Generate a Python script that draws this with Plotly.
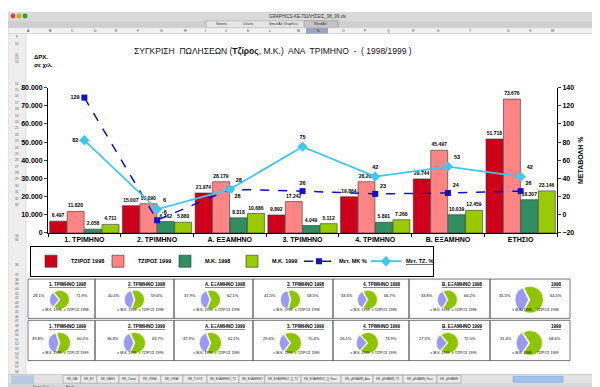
import plotly.graph_objects as go

# ---------------- DATA ----------------
categories = ["1. ΤΡΙΜΗΝΟ", "2. ΤΡΙΜΗΝΟ", "Α. ΕΞΑΜΗΝΟ", "3. ΤΡΙΜΗΝΟ",
              "4. ΤΡΙΜΗΝΟ", "Β. ΕΞΑΜΗΝΟ", "ΕΤΗΣΙΟ"]
tziros_1998 = [6497, 15007, 21974, 9892, 19864, 29744, 51718]
tziros_1999 = [11820, 16090, 28179, 17242, 28209, 45497, 73676]
mk_1998 = [2058, 6262, 8318, 4049, 5891, 10039, 18307]
mk_1999 = [4711, 5880, 10686, 5112, 7268, 12459, 23146]
change_mk = [129, -6, 28, 26, 23, 24, 26]
change_tz = [82, 6, 28, 75, 42, 53, 42]

pie_titles_1998 = ["1. ΤΡΙΜΗΝΟ 1998", "2. ΤΡΙΜΗΝΟ 1998", "Α. ΕΞΑΜΗΝΟ 1998", "3. ΤΡΙΜΗΝΟ 1998",
                   "4. ΤΡΙΜΗΝΟ 1998", "Β. ΕΞΑΜΗΝΟ 1998", "1998"]
pie_mk_1998 = [28.1, 40.4, 37.9, 41.5, 33.3, 33.8, 35.5]
pie_tz_1998 = [71.9, 59.6, 62.1, 58.5, 66.7, 66.2, 64.5]
pie_titles_1999 = ["1. ΤΡΙΜΗΝΟ 1999", "2. ΤΡΙΜΗΝΟ 1999", "Α. ΕΞΑΜΗΝΟ 1999", "3. ΤΡΙΜΗΝΟ 1999",
                   "4. ΤΡΙΜΗΝΟ 1999", "Β. ΕΞΑΜΗΝΟ 1999", "1999"]
pie_mk_1999 = [39.8, 36.3, 37.9, 29.6, 26.1, 27.5, 31.4]
pie_tz_1999 = [60.2, 63.7, 62.1, 70.4, 73.9, 72.5, 68.6]

W, H = 600, 387
FONT = "Liberation Sans, Arial, sans-serif"


def px(x):
    return x / W


def py(y):
    return 1 - y / H


fig = go.Figure()

bar_series = [
    ("ΤΖΙΡΟΣ 1998", tziros_1998, "#d0001a"),
    ("ΤΖΙΡΟΣ 1999", tziros_1999, "#ff8585"),
    ("Μ.Κ. 1998", mk_1998, "#2f8f63"),
    ("Μ.Κ. 1999", mk_1999, "#99cc00"),
]
for name, vals, col in bar_series:
    fig.add_trace(go.Bar(
        x=categories, y=vals, name="<b>" + name + "</b>", marker_color=col,
        marker_line=dict(color="#333333", width=0.6),
        texttemplate="<b>%{y:,d}</b>", textposition="outside",
        textfont=dict(size=5, color="#000", family=FONT),
        cliponaxis=False, xaxis="x", yaxis="y",
    ))

mk_pos = ["middle left", "top right", "bottom right", "top center", "top right", "top right", "top right"]
tz_pos = ["middle left", "top right", "top right", "top center", "top center", "top right", "top right"]

fig.add_trace(go.Scatter(
    x=categories, y=change_mk, name="<b>Μετ. ΜΚ %</b>", mode="lines+markers+text",
    line=dict(color="#1010c8", width=1.5, dash="dash"),
    marker=dict(symbol="square", size=6, color="#1010c8"),
    text=["<b>%d</b>" % v for v in change_mk], textposition=mk_pos,
    textfont=dict(size=5.5, color="#000", family=FONT),
    yaxis="y2", cliponaxis=False,
))
fig.add_trace(go.Scatter(
    x=categories, y=change_tz, name="<b><u>Μετ. ΤΖ. %</u></b>", mode="lines+markers+text",
    line=dict(color="#3cc8f0", width=1.8),
    marker=dict(symbol="diamond", size=8, color="#3cc8f0"),
    text=["<b>%d</b>" % v for v in change_tz], textposition=tz_pos,
    textfont=dict(size=5.5, color="#000", family=FONT),
    yaxis="y2", cliponaxis=False,
))

# ---------------- pies ----------------
col_bounds = [20, 87, 166, 245, 325, 401, 482, 562]
pie_cx = [52, 127, 203, 283, 360, 440, 522]
rows = [
    dict(top=272, bot=312, cy=293, d=[19, 19, 19, 19, 19, 19, 27], titles=pie_titles_1998,
         mk=pie_mk_1998, tz=pie_tz_1998, yr="1998"),
    dict(top=314, bot=355, cy=337, d=[21, 21, 21, 21, 21, 21, 25], titles=pie_titles_1999,
         mk=pie_mk_1999, tz=pie_tz_1999, yr="1999"),
]
shapes = []
annotations = []
pull = 0.12
for r in rows:
    for i in range(7):
        cx, cy, d = pie_cx[i], r["cy"], r["d"][i] * (1 + pull)
        p = r["mk"][i] / (r["mk"][i] + r["tz"][i])
        fig.add_trace(go.Pie(
            values=[r["mk"][i], r["tz"][i]], labels=["Μ.Κ. " + r["yr"], "ΤΖΙΡΟΣ " + r["yr"]],
            marker=dict(colors=["#9a9af5", "#8fc400"], line=dict(color="#ffffff", width=0.5)),
            pull=[pull, 0], sort=False, direction="clockwise", rotation=270 - p * 180,
            textinfo="none", hoverinfo="skip", showlegend=False,
            domain=dict(x=[px(cx - d / 2), px(cx + d / 2)], y=[py(cy + d / 2), py(cy - d / 2)]),
        ))
        shapes.append(dict(type="rect", xref="paper", yref="paper",
                           x0=px(col_bounds[i]), x1=px(col_bounds[i + 1]),
                           y0=py(r["bot"]), y1=py(r["top"]),
                           line=dict(color="#555", width=0.8), fillcolor="rgba(0,0,0,0)", layer="below"))
        annotations.append(dict(x=px(col_bounds[i + 1] - 6), y=py(r["top"] + 6), xref="paper", yref="paper",
                                text="<b><u>" + r["titles"][i] + "</u></b>", showarrow=False,
                                xanchor="right", yanchor="middle",
                                font=dict(size=4.5, family=FONT, color="#000")))
        rr = r["d"][i] / 2
        annotations.append(dict(x=px(cx - rr - 4), y=py(cy), xref="paper", yref="paper",
                                text="%.1f%%" % r["mk"][i], showarrow=False, xanchor="right",
                                font=dict(size=4, family=FONT, color="#000")))
        annotations.append(dict(x=px(cx + rr + 4), y=py(cy), xref="paper", yref="paper",
                                text="%.1f%%" % r["tz"][i], showarrow=False, xanchor="left",
                                font=dict(size=4, family=FONT, color="#000")))
        annotations.append(dict(x=px(cx + 5), y=py(r["bot"] - 4), xref="paper", yref="paper",
                                text="<span style='color:#9a9af5'>■</span> Μ.Κ. " + r["yr"]
                                     + "  <span style='color:#8fc400'>■</span> ΤΖΙΡΟΣ " + r["yr"],
                                showarrow=False, xanchor="center",
                                font=dict(size=3.6, family=FONT, color="#000")))

# ---------------- Excel window chrome ----------------
def rect(x0, y0, x1, y1, fill, line=None, layer="below"):
    shapes.append(dict(type="rect", xref="paper", yref="paper", x0=px(x0), x1=px(x1),
                       y0=py(y1), y1=py(y0), fillcolor=fill,
                       line=dict(width=0.6 if line else 0, color=line or fill), layer=layer))


def label(x, y, t, size=4, color="#333", anchor="center", bold=False):
    annotations.append(dict(x=px(x), y=py(y), xref="paper", yref="paper",
                            text=("<b>%s</b>" % t) if bold else t, showarrow=False,
                            xanchor=anchor, yanchor="middle", borderpad=0,
                            font=dict(size=size, color=color, family=FONT)))


rect(0, 0, 600, 9, "#d9d9d9")
rect(0, 9, 600, 16, "#cfcfcf")
rect(198, 9, 330, 16, "#e4e4e4", "#aaaaaa")
rect(296, 9, 330, 16, "#c4c4c4", "#999999")
rect(0, 16, 600, 22, "#f2f2f2", "#c8c8c8")
rect(298, 16, 320, 22, "#9aa6b8")
rect(0, 22, 18, 370, "#eeeeee", "#cfcfcf")
rect(589, 16, 600, 370, "#dde6f2", "#b0b8c8")
rect(590, 60, 598, 120, "#8fb2e0")
rect(0, 369, 600, 379, "#e2e2e2", "#bbbbbb")
rect(0, 379, 600, 387, "#d5d5d5")
rect(3, 370, 26, 379, "#b9c9e2")
rect(505, 371, 555, 377, "#9fc2ee", "#7da4d6")
for cx_, c in [(5, "#e0443e"), (11, "#dea123"), (17, "#1aab29")]:
    shapes.append(dict(type="circle", xref="paper", yref="paper",
                       x0=px(cx_ - 2.5), x1=px(cx_ + 2.5), y0=py(6.5), y1=py(1.5),
                       fillcolor=c, line=dict(width=0)))
label(300, 4.5, "GRAPHICS-ΚΕ-ΠΩΛΗΣΕΙΣ_98_99.xls", 4.5, "#333")
for x_, t in [(213, "Sheets"), (240, "Charts"), (275, "SmartArt Graphics"), (312, "WordArt")]:
    label(x_, 12.5, t, 3.5, "#333")
for x_, t in zip([20, 42, 64, 87, 108, 130, 153, 177, 197, 218, 240, 262, 290, 310, 335, 357, 380,
                  405, 430, 463, 500, 522, 545],
                 list("ABCDEFGHIJKLMNOPQRSTUVW")):
    label(x_, 19, t, 3.5, "#444")
row_nums = [("9", 25), ("10", 33), ("11", 44), ("12", 47), ("13", 51)]
for k in range(14, 34):
    row_nums.append((str(k), 73 + (k - 14) * 6.5))
row_nums += [("34", 228), ("35", 232), ("36", 258)]
for k in range(37, 59):
    row_nums.append((str(k), 268 + (k - 37) * 4.7))
for t, y_ in row_nums:
    label(9, y_, t, 3.2, "#555")
tabs = ["ΚΕ_ΚΑΙ", "ΚΕ_ΕΞ", "ΚΕ_ΚΑΙ95", "ΚΕ_Comp", "ΚΕ_ΟΙΚΑΙ", "ΚΕ_ΟΙΚΑΙ", "ΚΕ_ΤΙ-ΚΟΙ",
        "ΚΕ_ΕΞΑΜΗΝΟ_Τ2", "ΚΕ_ΕΞΑΜΗΝΟ", "ΚΕ_ΕΞΑΜΗΝΟ_Q_Τ2", "ΚΕ_ΕΞΑΜΗΝΟ_Q_Four", "ΚΕ_γΕΘΑΜΝ_Ακκ",
        "ΚΕ_γΕΘΑΜΝ_Τ2", "ΚΕ_γΕΘΑΜΝ_Four", "ΚΕ_γΕΘΑΜΝ"]
tx = 55
for t in tabs:
    w = len(t) * 2.0 + 6
    if tx + w > 503:
        break
    rect(tx, 370, tx + w, 378, "#ececec", "#9a9a9a")
    label(tx + w / 2, 374, t, 3, "#333")
    tx += w
label(33, 381.5, "Normal View", 2.8, "#3a6ea5")
label(62, 381.5, "Ready", 2.8, "#333")

# ---------------- main chart texts ----------------
annotations.append(dict(x=px(265), y=py(33), xref="paper", yref="paper", showarrow=False,
                        text="ΣΥΓΚΡΙΣΗ  ΠΩΛΗΣΕΩΝ (<b>Τζίρος</b>, Μ.Κ.)  ΑΝΑ  ΤΡΙΜΗΝΟ  -  ( 1998/1999 )",
                        font=dict(size=8.5, family=FONT, color="#111")))
label(25, 46, "ΔΡΧ.", 6, "#000", "left", True)
label(25, 54, "σε χιλ.", 6, "#000", "left", True)

fig.update_layout(
    width=W, height=H, margin=dict(l=0, r=0, t=0, b=0),
    paper_bgcolor="#ffffff", plot_bgcolor="#ffffff",
    separators=",.",
    barmode="group", bargap=0.04, bargroupgap=0.03,
    font=dict(family=FONT, size=6, color="#000"),
    xaxis=dict(domain=[px(40), px(549)], anchor="y", showline=True, linecolor="#000", linewidth=1,
               ticks="outside", tickson="boundaries", ticklen=3, tickcolor="#000",
               tickfont=dict(size=7, family=FONT, color="#000"), showgrid=False,
               tickprefix="<b>", ticksuffix="</b>"),
    yaxis=dict(domain=[py(225), py(77)], range=[0, 80000], dtick=10000, tickformat=",d",
               showline=True, linecolor="#000", linewidth=1, ticks="outside", ticklen=3,
               tickfont=dict(size=7, family=FONT, color="#000"), showgrid=False, zeroline=False,
               tickprefix="<b>", ticksuffix="</b>"),
    yaxis2=dict(overlaying="y", side="right", anchor="x", range=[-20, 140], dtick=20,
                showline=True, linecolor="#000", linewidth=1, ticks="outside", ticklen=3,
                tickfont=dict(size=7, family=FONT, color="#000"), showgrid=False, zeroline=False,
                tickprefix="<b>", ticksuffix="</b>",
                title=dict(text="<b>ΜΕΤΑΒΟΛΗ %</b>", font=dict(size=7, family=FONT), standoff=4)),
    legend=dict(orientation="h", x=px(22), y=py(238), xanchor="left", yanchor="top",
                bordercolor="#000", borderwidth=1, bgcolor="#ffffff",
                font=dict(size=5.5, family=FONT, color="#000"),
                entrywidth=22, entrywidthmode="pixels", itemwidth=30,
                traceorder="normal"),
    shapes=shapes, annotations=annotations,
)

fig.write_html("out.html")
